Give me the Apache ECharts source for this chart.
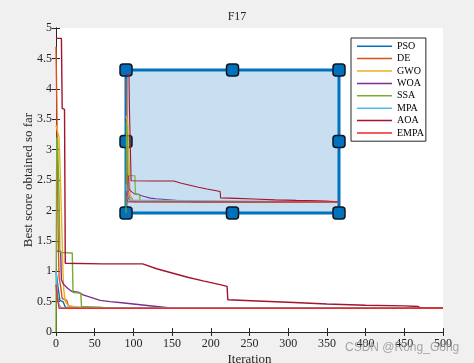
<!DOCTYPE html>
<html>
<head>
<meta charset="utf-8">
<script src="https://cdn.jsdelivr.net/npm/echarts@6/dist/echarts.min.js"></script>
<style>
html,body{margin:0;padding:0;background:#f0f0f0;}
#c{width:474px;height:363px;}
</style>
</head>
<body>
<div id="c"></div>
<script>
// ---- data ----
const names = ['PSO', 'DE', 'GWO', 'WOA', 'SSA', 'MPA', 'AOA', 'EMPA'];
const colors = ['#0072bd', '#d95319', '#edb120', '#7e2f8e', '#77ac30', '#4dbeee', '#a2142f', '#ee2a2a'];

const PSO = [[0,1.0],[2,0.8],[5,0.52],[9,0.5],[12,0.41],[20,0.395],[500,0.39]];
const DE = [[0,4.69],[1,3.8],[2,2.5],[3,1.4],[4,0.9],[6,0.75],[8,0.55],[14,0.52],[16,0.43],[30,0.40],[500,0.39]];
const GWO = [[0,3.4],[4,3.2],[6,2.4],[8,1.5],[9,1.0],[10,0.7],[12,0.5],[16,0.43],[30,0.41],[80,0.395],[500,0.39]];
const WOA = [[0,1.33],[6,1.33],[7,0.86],[10,0.78],[15,0.72],[20,0.67],[30,0.65],[35,0.61],[45,0.57],[57,0.52],[70,0.5],[85,0.48],[100,0.46],[115,0.44],[130,0.42],[145,0.40],[160,0.39],[500,0.39]];
const SSA = [[0,0],[0.6,0],[1,3.2],[2,3.15],[4,2.2],[5,1.31],[21,1.3],[22,0.65],[32,0.64],[33,0.42],[60,0.405],[110,0.395],[500,0.39]];
const MPA = [[0,1.0],[2,0.6],[4,0.45],[7,0.40],[500,0.39]];
const AOA = [[0,4.83],[7,4.83],[8,3.68],[11,3.66],[12,1.13],[60,1.12],[112,1.12],[130,1.04],[150,0.97],[170,0.9],[190,0.84],[212,0.78],[221,0.75],[222,0.53],[260,0.51],[300,0.49],[350,0.46],[400,0.44],[450,0.43],[468,0.42],[471,0.39],[500,0.39]];
const EMPA = [[0,0.78],[2,0.55],[4,0.39],[500,0.39]];
const allData = [PSO, DE, GWO, WOA, SSA, MPA, AOA, EMPA];

const xMin = 0, xMax = 500, xStep = 50;
const yMin = 0, yMax = 5, yStep = 0.5;

// ---- chart ----
const serif = 'Liberation Serif';
const axisColor = '#262626';
const chart = echarts.init(document.getElementById('c'), null, {renderer: 'canvas'});

const mainSeries = names.map((n, i) => ({
  name: n, type: 'line', data: allData[i], xAxisIndex: 0, yAxisIndex: 0,
  symbol: 'none', color: colors[i], lineStyle: {width: 1.4, color: colors[i]},
  z: 3 + i * 0.01, silent: true
}));
const insetSeries = names.map((n, i) => ({
  name: n, type: 'line', data: allData[i], xAxisIndex: 2, yAxisIndex: 2,
  symbol: 'none', color: colors[i], lineStyle: {width: 1.1, color: colors[i]},
  z: 6, silent: true
}));
const handles = {
  type: 'scatter', xAxisIndex: 2, yAxisIndex: 2, clip: false, z: 5, silent: true,
  symbol: 'roundRect', symbolSize: 12,
  itemStyle: {color: '#0072bd', borderColor: '#10141c', borderWidth: 1.5, opacity: 1},
  data: [[xMin, yMax], [(xMin + xMax) / 2, yMax], [xMax, yMax],
         [xMin, (yMin + yMax) / 2], [xMax, (yMin + yMax) / 2],
         [xMin, yMin], [(xMin + xMax) / 2, yMin], [xMax, yMin]]
};

const baseX = {type: 'value', min: xMin, max: xMax, interval: xStep, splitLine: {show: false}};
const baseY = {type: 'value', min: yMin, max: yMax, interval: yStep, splitLine: {show: false}};

chart.setOption({
  animation: false,
  backgroundColor: '#f0f0f0',
  title: {text: 'F17', left: 'center', top: 11, padding: 0,
    textStyle: {fontFamily: serif, fontSize: 12, fontWeight: 'normal', color: axisColor}},
  legend: {
    data: names, orient: 'vertical', left: 351, top: 38,
    padding: [2, 2, 2, 6], itemGap: 0, itemWidth: 35, itemHeight: 1.5, icon: 'rect',
    backgroundColor: '#ffffff', borderColor: '#262626', borderWidth: 1,
    textStyle: {fontFamily: serif, fontSize: 10, color: '#000', lineHeight: 12.4},
    selectedMode: false
  },
  grid: [
    {left: 56, top: 28, right: 31, bottom: 31, show: true, backgroundColor: '#ffffff', borderWidth: 0,
     containLabel: false, outerBoundsMode: 'none'},
    {left: 126, top: 70, width: 213, height: 143, show: true, backgroundColor: '#c8dff1', borderColor: '#0072bd', borderWidth: 3, z: 4,
     containLabel: false, outerBoundsMode: 'none'}
  ],
  xAxis: [
    Object.assign({}, baseX, {gridIndex: 0, position: 'bottom',
      name: 'Iteration', nameLocation: 'middle', nameGap: 21, nameMoveOverlap: false,
      nameTextStyle: {fontFamily: serif, fontSize: 13, color: axisColor},
      axisLine: {lineStyle: {color: axisColor, width: 1}},
      axisTick: {inside: true, length: 4, lineStyle: {color: axisColor}},
      axisLabel: {fontFamily: serif, fontSize: 12, color: axisColor, margin: 6}}),
    Object.assign({}, baseX, {gridIndex: 0, position: 'top',
      axisLine: {lineStyle: {color: axisColor, width: 1}},
      axisTick: {inside: true, length: 4, lineStyle: {color: axisColor}},
      axisLabel: {show: false}}),
    Object.assign({}, baseX, {gridIndex: 1, show: false})
  ],
  yAxis: [
    Object.assign({}, baseY, {gridIndex: 0, position: 'left',
      name: 'Best score obtained so far', nameLocation: 'middle', nameGap: 21, nameMoveOverlap: false,
      nameTextStyle: {fontFamily: serif, fontSize: 13, color: axisColor},
      axisLine: {show: true, lineStyle: {color: axisColor, width: 1}},
      axisTick: {show: true, inside: true, length: 4, lineStyle: {color: axisColor}},
      axisLabel: {fontFamily: serif, fontSize: 12, color: axisColor, margin: 4}}),
    Object.assign({}, baseY, {gridIndex: 0, position: 'right',
      axisLine: {show: true, lineStyle: {color: axisColor, width: 1}},
      axisTick: {show: true, inside: true, length: 4, lineStyle: {color: axisColor}},
      axisLabel: {show: false}}),
    Object.assign({}, baseY, {gridIndex: 1, show: false})
  ],
  graphic: [{
    type: 'text', left: 345, top: 342, z: 100, silent: true,
    style: {text: 'CSDN @Rong_Gong', fontFamily: 'Liberation Sans', fontSize: 12, fill: 'rgba(150,150,150,0.85)'}
  }],
  series: mainSeries.concat([handles]).concat(insetSeries)
});
</script>
</body>
</html>
